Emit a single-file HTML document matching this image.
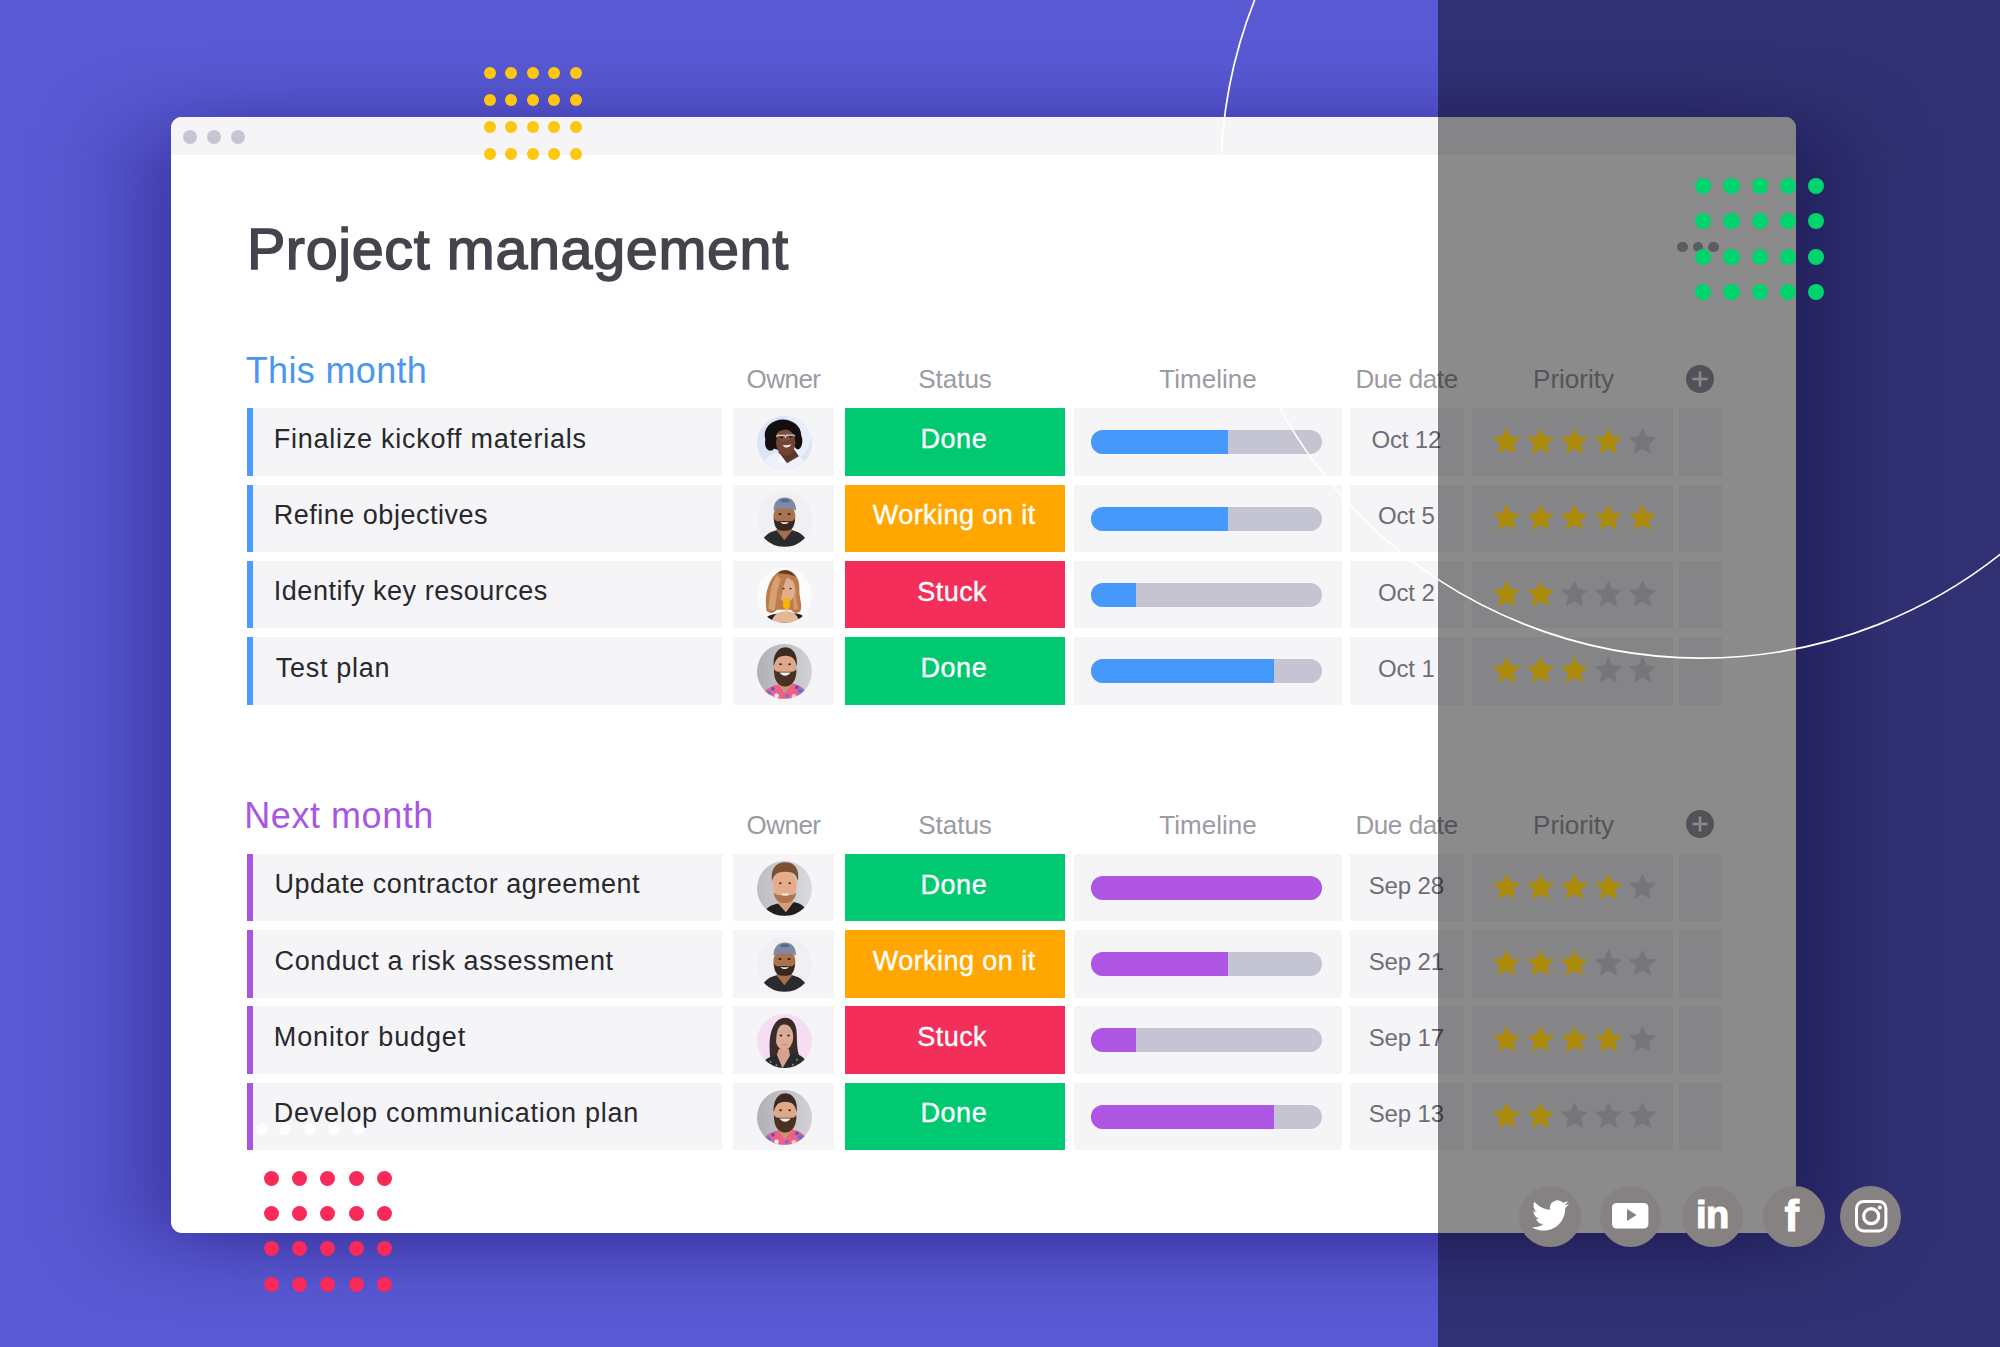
<!DOCTYPE html>
<html lang="en"><head><meta charset="utf-8"><title>Project management</title>
<style>
html,body{margin:0;padding:0;}
body{width:2000px;height:1347px;overflow:hidden;position:relative;background:#5859D3;font-family:"Liberation Sans", sans-serif;}
.t{position:absolute;white-space:nowrap;}
.r{position:absolute;}
svg{position:absolute;overflow:visible;}
.av{width:54.8px;height:54.8px;border-radius:50%;overflow:hidden;}.av svg{filter:blur(0.45px);}
</style></head><body>
<div class="r" style="left:86px;top:127px;width:1794.5px;height:1115.5px;border-radius:14px;background:linear-gradient(90deg,rgba(35,25,120,0) 0,rgba(35,25,120,0.72) 145px,rgba(35,25,120,0.72) calc(100% - 145px),rgba(35,25,120,0) 100%);filter:blur(35px)"></div>
<div class="r" style="left:171px;top:117px;width:1624.5px;height:1115.5px;background:#fff;border-radius:11px;overflow:hidden"><div class="r" style="left:0;top:0;width:100%;height:38px;background:#F5F5F7"></div></div>
<div class="r" style="left:183.00px;top:129.50px;width:14px;height:14px;border-radius:50%;background:#C6C5D3;"></div>
<div class="r" style="left:207.00px;top:129.50px;width:14px;height:14px;border-radius:50%;background:#C6C5D3;"></div>
<div class="r" style="left:231.00px;top:129.50px;width:14px;height:14px;border-radius:50%;background:#C6C5D3;"></div>
<div class="t" style="left:246.90px;top:192.18px;font-size:57.5px;line-height:115.0px;color:#43444C;letter-spacing:0.63px;-webkit-text-stroke:1.5px #43444C;">Project management</div>
<div class="r" style="left:1677.00px;top:241.90px;width:10.6px;height:10.6px;border-radius:50%;background:#A9A8B4;"></div>
<div class="r" style="left:1692.90px;top:241.90px;width:10.6px;height:10.6px;border-radius:50%;background:#A9A8B4;"></div>
<div class="r" style="left:1708.20px;top:241.90px;width:10.6px;height:10.6px;border-radius:50%;background:#A9A8B4;"></div>
<div class="t" style="left:245.80px;top:334.53px;font-size:36px;line-height:72px;color:#4A96F0;letter-spacing:0.33px;">This month</div>
<div class="t" style="left:383.50px;width:800px;text-align:center;top:353.49px;font-size:26px;line-height:52px;color:#9B9BA3;letter-spacing:-0.5px;">Owner</div>
<div class="t" style="left:555.00px;width:800px;text-align:center;top:353.49px;font-size:26px;line-height:52px;color:#9B9BA3;letter-spacing:0px;">Status</div>
<div class="t" style="left:808.00px;width:800px;text-align:center;top:353.49px;font-size:26px;line-height:52px;color:#9B9BA3;letter-spacing:0px;">Timeline</div>
<div class="t" style="left:1006.60px;width:800px;text-align:center;top:353.49px;font-size:26px;line-height:52px;color:#9B9BA3;letter-spacing:-0.4px;">Due date</div>
<div class="t" style="left:1173.50px;width:800px;text-align:center;top:353.49px;font-size:26px;line-height:52px;color:#9B9BA3;letter-spacing:0px;">Priority</div>
<svg style="left:1686.25px;top:364.8px" width="28" height="28" viewBox="0 0 28 28"><circle cx="14" cy="14" r="14" fill="#9796A3"/><path d="M14 6.5v15M6.5 14h15" stroke="#fff" stroke-width="2.6"/></svg>
<div class="r" style="left:247.00px;top:408.30px;width:6.30px;height:67.50px;background:#4B9BFA;"></div>
<div class="r" style="left:253.30px;top:408.30px;width:468.70px;height:67.50px;background:#F5F5F8;"></div>
<div class="t" style="left:273.80px;top:411.94px;font-size:27px;line-height:54px;color:#28282D;letter-spacing:0.74px;">Finalize kickoff materials</div>
<div class="r" style="left:732.50px;top:408.30px;width:101.25px;height:67.50px;background:#F5F5F8;"></div>
<div class="r av" style="left:757.30px;top:415.50px;background:#DCE5F7"><svg style="left:0;top:0" width="54.8" height="54.8" viewBox="0 0 55 55"><ellipse cx="38" cy="20" rx="16" ry="22" fill="#E9EEFB"/>
<ellipse cx="26" cy="19" rx="18.3" ry="15.5" fill="#130F0F"/>
<ellipse cx="13.5" cy="27" rx="5.5" ry="8" fill="#130F0F"/>
<ellipse cx="41" cy="25" rx="4.5" ry="8.5" fill="#130F0F"/>
<path d="M4 55 C5 44 13 38 23 36 L41 40 C47 43 50 48 52 55Z" fill="#EDF1FC"/>
<path d="M21 36 L30 47.5 L42 40.5 L37 33Z" fill="#5C3729"/>
<ellipse cx="28.8" cy="26.6" rx="9.8" ry="13" fill="#714433"/>
<ellipse cx="27.5" cy="19.5" rx="8" ry="5.5" fill="#7E4E3B"/>
<ellipse cx="24.5" cy="21.6" rx="1.4" ry="1" fill="#2A1A16"/><ellipse cx="33.6" cy="20.8" rx="1.4" ry="1" fill="#2A1A16"/>
<path d="M19.4 21 L20.5 19.4 H27.6 L28.6 21.4 L29.6 19.2 H36.8 L38.4 20.4" stroke="#CFD4DE" stroke-width="1.1" fill="none"/>
<path d="M25.6 29 C27.6 32.6 32.6 32.4 34.4 28.4 C31.4 29.6 28.4 29.8 25.6 29Z" fill="#F3ECE8"/>
<path d="M23 38 L30 47.5 L21 46Z" fill="#F8FAFE"/></svg></div>
<div class="r" style="left:844.50px;top:408.30px;width:220.60px;height:67.50px;background:#00C971;"></div>
<div class="t" style="left:553.90px;width:800px;text-align:center;top:412.14px;font-size:27px;line-height:54px;color:#fff;letter-spacing:0.5px;-webkit-text-stroke:0.35px #fff;">Done</div>
<div class="r" style="left:1073.75px;top:408.30px;width:268.25px;height:67.50px;background:#F5F5F8;"></div>
<div class="r" style="left:1091.25px;top:430.30px;width:230.25px;height:24px;border-radius:12px;background:#C5C4D3;overflow:hidden"><div class="r" style="left:0;top:0;height:24px;width:137px;background:#4599FB"></div></div>
<div class="r" style="left:1350.00px;top:408.30px;width:113.75px;height:67.50px;background:#F5F5F8;"></div>
<div class="t" style="left:1006.30px;width:800px;text-align:center;top:416.18px;font-size:24px;line-height:48px;color:#6E6E76;letter-spacing:-0.15px;">Oct 12</div>
<div class="r" style="left:1472.00px;top:408.30px;width:200.50px;height:67.50px;background:#F5F5F8;"></div>
<div class="r" style="left:1678.75px;top:408.30px;width:43.25px;height:67.50px;background:#F5F5F8;"></div>
<div class="r" style="left:247.00px;top:484.55px;width:6.30px;height:67.50px;background:#4B9BFA;"></div>
<div class="r" style="left:253.30px;top:484.55px;width:468.70px;height:67.50px;background:#F5F5F8;"></div>
<div class="t" style="left:273.80px;top:488.19px;font-size:27px;line-height:54px;color:#28282D;letter-spacing:0.5px;">Refine objectives</div>
<div class="r" style="left:732.50px;top:484.55px;width:101.25px;height:67.50px;background:#F5F5F8;"></div>
<div class="r av" style="left:757.30px;top:491.75px;background:#F0F0F3"><svg style="left:0;top:0" width="54.8" height="54.8" viewBox="0 0 55 55"><path d="M3 55 C5 45.5 11 40.5 19.5 38.5 L35.5 38.5 C44 40.5 50 45.5 52 55Z" fill="#2B2B2E"/>
<path d="M19.5 38.5 L27.5 48.5 L35.5 38.5 L33.5 32 H21.5Z" fill="#A26E4E"/>
<ellipse cx="27.5" cy="24.5" rx="11" ry="13" fill="#A9734F"/>
<path d="M16.8 26 C17 37.5 22 39 27.5 39 C33 39 38 37.5 38.2 26 C36.4 30.5 33.5 29.2 27.5 29.2 C21.5 29.2 18.6 30.5 16.8 26Z" fill="#37271F"/>
<path d="M23.4 29.8 C25 33 30.4 33 32 29.8 C29.4 30.6 26 30.6 23.4 29.8Z" fill="#EFE6E0"/>
<ellipse cx="23" cy="22" rx="1.5" ry="1" fill="#2A1B15"/><ellipse cx="32.2" cy="22" rx="1.5" ry="1" fill="#2A1B15"/>
<path d="M16.6 18.5 C16.6 9 22 5.5 28 5.5 C34 5.5 39.2 9 39.2 18.5 C35 16 21 16 16.6 18.5Z" fill="#7D89A5"/>
<path d="M22.5 8.5 C26 6.5 31 6.5 33.5 9 C30 11 26 11 22.5 8.5Z" fill="#5C6783"/></svg></div>
<div class="r" style="left:844.50px;top:484.55px;width:220.60px;height:67.50px;background:#FFA700;"></div>
<div class="t" style="left:554.20px;width:800px;text-align:center;top:488.39px;font-size:27px;line-height:54px;color:#fff;letter-spacing:0.45px;-webkit-text-stroke:0.35px #fff;">Working on it</div>
<div class="r" style="left:1073.75px;top:484.55px;width:268.25px;height:67.50px;background:#F5F5F8;"></div>
<div class="r" style="left:1091.25px;top:506.55px;width:230.25px;height:24px;border-radius:12px;background:#C5C4D3;overflow:hidden"><div class="r" style="left:0;top:0;height:24px;width:137px;background:#4599FB"></div></div>
<div class="r" style="left:1350.00px;top:484.55px;width:113.75px;height:67.50px;background:#F5F5F8;"></div>
<div class="t" style="left:1006.30px;width:800px;text-align:center;top:492.43px;font-size:24px;line-height:48px;color:#6E6E76;letter-spacing:-0.15px;">Oct 5</div>
<div class="r" style="left:1472.00px;top:484.55px;width:200.50px;height:67.50px;background:#F5F5F8;"></div>
<div class="r" style="left:1678.75px;top:484.55px;width:43.25px;height:67.50px;background:#F5F5F8;"></div>
<div class="r" style="left:247.00px;top:560.80px;width:6.30px;height:67.50px;background:#4B9BFA;"></div>
<div class="r" style="left:253.30px;top:560.80px;width:468.70px;height:67.50px;background:#F5F5F8;"></div>
<div class="t" style="left:273.80px;top:564.44px;font-size:27px;line-height:54px;color:#28282D;letter-spacing:0.52px;">Identify key resources</div>
<div class="r" style="left:732.50px;top:560.80px;width:101.25px;height:67.50px;background:#F5F5F8;"></div>
<div class="r av" style="left:757.30px;top:568.00px;background:#FBFBFC"><svg style="left:0;top:0" width="54.8" height="54.8" viewBox="0 0 55 55"><path d="M9.5 43 C7.5 30 10 9 24 2.8 C36 -0.8 43.5 10 42.5 22 C42.5 31 46 37 43.5 43.5 C40 46.5 36 45 34 42 L20 42 C17 46 12 46 9.5 43Z" fill="#BE7C4D"/>
<path d="M20.5 5.6 C25 0.6 34 0.8 38.5 9 C33 5.6 26.5 5.6 20.5 5.6Z" fill="#5E3C2A"/>
<path d="M11.6 41 C12.6 30 13.6 16 20 7.6 L23.6 11 C19 22 20 33 17.6 43Z" fill="#D6A070"/>
<path d="M36 12 C40 20 38.6 32 41.6 41 L37 42 C36 33 36.6 22 34 14Z" fill="#D29967"/>
<path d="M5 55 C7 49.5 13 47 19.5 46 L39.5 45.6 C45.5 46.6 49.4 49.5 50.5 55Z" fill="#1E1E20"/>
<path d="M14.5 55 C15.6 47.5 21 43.4 29 43.4 C37 43.4 41.4 47.5 42.5 55Z" fill="#E3B697"/>
<ellipse cx="29.6" cy="22" rx="8.4" ry="12.2" fill="#E0AF90"/>
<path d="M21 25 C21.6 14.6 25 10 31.6 7.6 C27.6 13.6 25.6 20 24.6 31Z" fill="#BE7C4D"/>
<ellipse cx="26.6" cy="20.6" rx="1.3" ry="0.9" fill="#5A3A2C"/><ellipse cx="33.6" cy="20.6" rx="1.3" ry="0.9" fill="#5A3A2C"/>
<rect x="26.2" y="30.4" width="6.8" height="10.8" rx="3.2" fill="#F8B400"/>
<rect x="28.8" y="40.4" width="1.8" height="7.2" fill="#E6C08A"/></svg></div>
<div class="r" style="left:844.50px;top:560.80px;width:220.60px;height:67.50px;background:#F42E5A;"></div>
<div class="t" style="left:552.20px;width:800px;text-align:center;top:564.64px;font-size:27px;line-height:54px;color:#fff;letter-spacing:0.45px;-webkit-text-stroke:0.35px #fff;">Stuck</div>
<div class="r" style="left:1073.75px;top:560.80px;width:268.25px;height:67.50px;background:#F5F5F8;"></div>
<div class="r" style="left:1091.25px;top:582.80px;width:230.25px;height:24px;border-radius:12px;background:#C5C4D3;overflow:hidden"><div class="r" style="left:0;top:0;height:24px;width:45px;background:#4599FB"></div></div>
<div class="r" style="left:1350.00px;top:560.80px;width:113.75px;height:67.50px;background:#F5F5F8;"></div>
<div class="t" style="left:1006.30px;width:800px;text-align:center;top:568.68px;font-size:24px;line-height:48px;color:#6E6E76;letter-spacing:-0.15px;">Oct 2</div>
<div class="r" style="left:1472.00px;top:560.80px;width:200.50px;height:67.50px;background:#F5F5F8;"></div>
<div class="r" style="left:1678.75px;top:560.80px;width:43.25px;height:67.50px;background:#F5F5F8;"></div>
<div class="r" style="left:247.00px;top:637.05px;width:6.30px;height:67.50px;background:#4B9BFA;"></div>
<div class="r" style="left:253.30px;top:637.05px;width:468.70px;height:67.50px;background:#F5F5F8;"></div>
<div class="t" style="left:275.80px;top:640.69px;font-size:27px;line-height:54px;color:#28282D;letter-spacing:0.7px;">Test plan</div>
<div class="r" style="left:732.50px;top:637.05px;width:101.25px;height:67.50px;background:#F5F5F8;"></div>
<div class="r av" style="left:757.30px;top:644.25px;background:linear-gradient(90deg,#B0B0B6,#D2D2D6)"><svg style="left:0;top:0" width="54.8" height="54.8" viewBox="0 0 55 55"><path d="M3.5 55 C5.5 47 12 43 20 41 L37 40 C45 42 50.5 47 52.5 55Z" fill="#EF6088"/>
<circle cx="11.5" cy="49.5" r="2.7" fill="#5479DA"/><circle cx="19.6" cy="52" r="2.3" fill="#F7F2F4"/><circle cx="43.6" cy="47.4" r="2.7" fill="#5479DA"/><circle cx="37" cy="52.4" r="2.3" fill="#F9C9D6"/><circle cx="47.6" cy="52.4" r="2" fill="#F7F2F4"/><circle cx="16" cy="45" r="1.9" fill="#6C4FB0"/><circle cx="40" cy="43.4" r="1.9" fill="#6C4FB0"/><circle cx="30" cy="52" r="1.8" fill="#5479DA"/>
<path d="M21 40.4 L28 49.5 L36 40 L34 35 H23Z" fill="#CB9273"/>
<ellipse cx="28.2" cy="21.5" rx="11" ry="14" fill="#DEA889"/>
<path d="M16.8 22.5 C15.8 12 20 3.5 28.5 3.3 C37 3.5 41.2 12 39.8 22.5 C38.5 15.4 36 11.8 28.5 11.8 C21 11.8 18.5 15.4 16.8 22.5Z" fill="#3B2A21"/>
<path d="M17 24.5 C16.6 36 21 42.6 28.2 42.6 C35.5 42.6 40 36 39.5 24.5 C38 28.6 35 27.8 28.2 27.8 C21.5 27.8 18.5 28.6 17 24.5Z" fill="#493221"/>
<ellipse cx="23.6" cy="20.4" rx="1.4" ry="1" fill="#3A2A22"/><ellipse cx="32.8" cy="20.4" rx="1.4" ry="1" fill="#3A2A22"/>
<path d="M22.6 28.6 C24.8 32.8 31.6 32.8 33.8 28.6Z" fill="#F5F0ED"/></svg></div>
<div class="r" style="left:844.50px;top:637.05px;width:220.60px;height:67.50px;background:#00C971;"></div>
<div class="t" style="left:553.90px;width:800px;text-align:center;top:640.89px;font-size:27px;line-height:54px;color:#fff;letter-spacing:0.5px;-webkit-text-stroke:0.35px #fff;">Done</div>
<div class="r" style="left:1073.75px;top:637.05px;width:268.25px;height:67.50px;background:#F5F5F8;"></div>
<div class="r" style="left:1091.25px;top:659.05px;width:230.25px;height:24px;border-radius:12px;background:#C5C4D3;overflow:hidden"><div class="r" style="left:0;top:0;height:24px;width:183px;background:#4599FB"></div></div>
<div class="r" style="left:1350.00px;top:637.05px;width:113.75px;height:67.50px;background:#F5F5F8;"></div>
<div class="t" style="left:1006.30px;width:800px;text-align:center;top:644.93px;font-size:24px;line-height:48px;color:#6E6E76;letter-spacing:-0.15px;">Oct 1</div>
<div class="r" style="left:1472.00px;top:637.05px;width:200.50px;height:67.50px;background:#F5F5F8;"></div>
<div class="r" style="left:1678.75px;top:637.05px;width:43.25px;height:67.50px;background:#F5F5F8;"></div>
<div class="t" style="left:244.30px;top:780.28px;font-size:36px;line-height:72px;color:#A856E6;letter-spacing:0.55px;">Next month</div>
<div class="t" style="left:383.50px;width:800px;text-align:center;top:798.99px;font-size:26px;line-height:52px;color:#9B9BA3;letter-spacing:-0.5px;">Owner</div>
<div class="t" style="left:555.00px;width:800px;text-align:center;top:798.99px;font-size:26px;line-height:52px;color:#9B9BA3;letter-spacing:0px;">Status</div>
<div class="t" style="left:808.00px;width:800px;text-align:center;top:798.99px;font-size:26px;line-height:52px;color:#9B9BA3;letter-spacing:0px;">Timeline</div>
<div class="t" style="left:1006.60px;width:800px;text-align:center;top:798.99px;font-size:26px;line-height:52px;color:#9B9BA3;letter-spacing:-0.4px;">Due date</div>
<div class="t" style="left:1173.50px;width:800px;text-align:center;top:798.99px;font-size:26px;line-height:52px;color:#9B9BA3;letter-spacing:0px;">Priority</div>
<svg style="left:1686.25px;top:810.3px" width="28" height="28" viewBox="0 0 28 28"><circle cx="14" cy="14" r="14" fill="#9796A3"/><path d="M14 6.5v15M6.5 14h15" stroke="#fff" stroke-width="2.6"/></svg>
<div class="r" style="left:247.00px;top:853.80px;width:6.30px;height:67.50px;background:#A955E3;"></div>
<div class="r" style="left:253.30px;top:853.80px;width:468.70px;height:67.50px;background:#F5F5F8;"></div>
<div class="t" style="left:274.55px;top:857.44px;font-size:27px;line-height:54px;color:#28282D;letter-spacing:0.53px;">Update contractor agreement</div>
<div class="r" style="left:732.50px;top:853.80px;width:101.25px;height:67.50px;background:#F5F5F8;"></div>
<div class="r av" style="left:757.30px;top:861.00px;background:linear-gradient(90deg,#BDBDC2,#DADADD)"><svg style="left:0;top:0" width="54.8" height="54.8" viewBox="0 0 55 55"><path d="M5.5 55 C7.5 48 13 44.5 20 43 L38 41.5 C45 43 49.5 47 51.5 55Z" fill="#1F1F22"/>
<path d="M21 42.6 L29 51.5 L36.5 41.6 L35 36 H23Z" fill="#D89E7B"/>
<ellipse cx="28" cy="24" rx="11.8" ry="15.5" fill="#E4AC88"/>
<path d="M16.6 31.5 C18 40 23 42.2 28 42.2 C33 42.2 38 40 39.4 31.5 C36 35.2 32 34 28 34 C24 34 20 35.2 16.6 31.5Z" fill="#AB7550"/>
<path d="M15.2 20.5 C13 8 19 1.2 28.5 1.2 C38 1.2 43.2 8 41 20.5 C39.5 13.8 37 10.8 28.5 10.8 C20 10.8 17 13.8 15.2 20.5Z" fill="#7C5032"/>
<ellipse cx="23.4" cy="22.4" rx="1.5" ry="1" fill="#5A3D2C"/><ellipse cx="32.8" cy="22.4" rx="1.5" ry="1" fill="#5A3D2C"/>
<ellipse cx="28.2" cy="33.6" rx="4" ry="1.2" fill="#F1E6E0"/></svg></div>
<div class="r" style="left:844.50px;top:853.80px;width:220.60px;height:67.50px;background:#00C971;"></div>
<div class="t" style="left:553.90px;width:800px;text-align:center;top:857.64px;font-size:27px;line-height:54px;color:#fff;letter-spacing:0.5px;-webkit-text-stroke:0.35px #fff;">Done</div>
<div class="r" style="left:1073.75px;top:853.80px;width:268.25px;height:67.50px;background:#F5F5F8;"></div>
<div class="r" style="left:1091.25px;top:875.80px;width:230.25px;height:24px;border-radius:12px;background:#C5C4D3;overflow:hidden"><div class="r" style="left:0;top:0;height:24px;width:230.25px;background:#AE55E4"></div></div>
<div class="r" style="left:1350.00px;top:853.80px;width:113.75px;height:67.50px;background:#F5F5F8;"></div>
<div class="t" style="left:1006.30px;width:800px;text-align:center;top:861.68px;font-size:24px;line-height:48px;color:#6E6E76;letter-spacing:-0.15px;">Sep 28</div>
<div class="r" style="left:1472.00px;top:853.80px;width:200.50px;height:67.50px;background:#F5F5F8;"></div>
<div class="r" style="left:1678.75px;top:853.80px;width:43.25px;height:67.50px;background:#F5F5F8;"></div>
<div class="r" style="left:247.00px;top:930.05px;width:6.30px;height:67.50px;background:#A955E3;"></div>
<div class="r" style="left:253.30px;top:930.05px;width:468.70px;height:67.50px;background:#F5F5F8;"></div>
<div class="t" style="left:274.55px;top:933.69px;font-size:27px;line-height:54px;color:#28282D;letter-spacing:0.6px;">Conduct a risk assessment</div>
<div class="r" style="left:732.50px;top:930.05px;width:101.25px;height:67.50px;background:#F5F5F8;"></div>
<div class="r av" style="left:757.30px;top:937.25px;background:#F0F0F3"><svg style="left:0;top:0" width="54.8" height="54.8" viewBox="0 0 55 55"><path d="M3 55 C5 45.5 11 40.5 19.5 38.5 L35.5 38.5 C44 40.5 50 45.5 52 55Z" fill="#2B2B2E"/>
<path d="M19.5 38.5 L27.5 48.5 L35.5 38.5 L33.5 32 H21.5Z" fill="#A26E4E"/>
<ellipse cx="27.5" cy="24.5" rx="11" ry="13" fill="#A9734F"/>
<path d="M16.8 26 C17 37.5 22 39 27.5 39 C33 39 38 37.5 38.2 26 C36.4 30.5 33.5 29.2 27.5 29.2 C21.5 29.2 18.6 30.5 16.8 26Z" fill="#37271F"/>
<path d="M23.4 29.8 C25 33 30.4 33 32 29.8 C29.4 30.6 26 30.6 23.4 29.8Z" fill="#EFE6E0"/>
<ellipse cx="23" cy="22" rx="1.5" ry="1" fill="#2A1B15"/><ellipse cx="32.2" cy="22" rx="1.5" ry="1" fill="#2A1B15"/>
<path d="M16.6 18.5 C16.6 9 22 5.5 28 5.5 C34 5.5 39.2 9 39.2 18.5 C35 16 21 16 16.6 18.5Z" fill="#7D89A5"/>
<path d="M22.5 8.5 C26 6.5 31 6.5 33.5 9 C30 11 26 11 22.5 8.5Z" fill="#5C6783"/></svg></div>
<div class="r" style="left:844.50px;top:930.05px;width:220.60px;height:67.50px;background:#FFA700;"></div>
<div class="t" style="left:554.20px;width:800px;text-align:center;top:933.89px;font-size:27px;line-height:54px;color:#fff;letter-spacing:0.45px;-webkit-text-stroke:0.35px #fff;">Working on it</div>
<div class="r" style="left:1073.75px;top:930.05px;width:268.25px;height:67.50px;background:#F5F5F8;"></div>
<div class="r" style="left:1091.25px;top:952.05px;width:230.25px;height:24px;border-radius:12px;background:#C5C4D3;overflow:hidden"><div class="r" style="left:0;top:0;height:24px;width:137px;background:#AE55E4"></div></div>
<div class="r" style="left:1350.00px;top:930.05px;width:113.75px;height:67.50px;background:#F5F5F8;"></div>
<div class="t" style="left:1006.30px;width:800px;text-align:center;top:937.93px;font-size:24px;line-height:48px;color:#6E6E76;letter-spacing:-0.15px;">Sep 21</div>
<div class="r" style="left:1472.00px;top:930.05px;width:200.50px;height:67.50px;background:#F5F5F8;"></div>
<div class="r" style="left:1678.75px;top:930.05px;width:43.25px;height:67.50px;background:#F5F5F8;"></div>
<div class="r" style="left:247.00px;top:1006.30px;width:6.30px;height:67.50px;background:#A955E3;"></div>
<div class="r" style="left:253.30px;top:1006.30px;width:468.70px;height:67.50px;background:#F5F5F8;"></div>
<div class="t" style="left:273.80px;top:1009.94px;font-size:27px;line-height:54px;color:#28282D;letter-spacing:0.87px;">Monitor budget</div>
<div class="r" style="left:732.50px;top:1006.30px;width:101.25px;height:67.50px;background:#F5F5F8;"></div>
<div class="r av" style="left:757.30px;top:1013.50px;background:#F7DDF4"><svg style="left:0;top:0" width="54.8" height="54.8" viewBox="0 0 55 55"><path d="M13.5 46 C11.5 30 12 10 24 4.5 C33 1.5 39.4 8 39.8 18 C40.2 28 40 36 42.5 42 C34 47 22 48 13.5 46Z" fill="#392C2A"/>
<path d="M3.5 55 C5.5 47 11 43 19 41 L39 40 C46 42 50.5 47 52.5 55Z" fill="#292A2C"/>
<path d="M20 41 L25.6 54.5 L33 42 L32 35 H22Z" fill="#D5A38D"/>
<ellipse cx="27.2" cy="23" rx="9.2" ry="13" fill="#DBAB96"/>
<path d="M15.6 27 C14.6 12 20 5 28 5 C34 5 38.2 9 38.8 17.5 C35 12 31 10 26 10.6 C21 12.2 19.2 18 19.2 31Z" fill="#392C2A"/>
<ellipse cx="24" cy="21.6" rx="1.4" ry="0.9" fill="#3A2A26"/><ellipse cx="31.6" cy="21.6" rx="1.4" ry="0.9" fill="#3A2A26"/>
<path d="M24.6 30.6 C26.4 32 29.4 32 31 30.6Z" fill="#B8796A"/>
<circle cx="13.6" cy="48" r="1" fill="#8B8D90"/><circle cx="40" cy="46" r="1" fill="#8B8D90"/><circle cx="44.4" cy="51" r="1" fill="#8B8D90"/><circle cx="19.6" cy="51.4" r="1" fill="#8B8D90"/><circle cx="36" cy="51" r="1" fill="#8B8D90"/></svg></div>
<div class="r" style="left:844.50px;top:1006.30px;width:220.60px;height:67.50px;background:#F42E5A;"></div>
<div class="t" style="left:552.20px;width:800px;text-align:center;top:1010.14px;font-size:27px;line-height:54px;color:#fff;letter-spacing:0.45px;-webkit-text-stroke:0.35px #fff;">Stuck</div>
<div class="r" style="left:1073.75px;top:1006.30px;width:268.25px;height:67.50px;background:#F5F5F8;"></div>
<div class="r" style="left:1091.25px;top:1028.30px;width:230.25px;height:24px;border-radius:12px;background:#C5C4D3;overflow:hidden"><div class="r" style="left:0;top:0;height:24px;width:45px;background:#AE55E4"></div></div>
<div class="r" style="left:1350.00px;top:1006.30px;width:113.75px;height:67.50px;background:#F5F5F8;"></div>
<div class="t" style="left:1006.30px;width:800px;text-align:center;top:1014.18px;font-size:24px;line-height:48px;color:#6E6E76;letter-spacing:-0.15px;">Sep 17</div>
<div class="r" style="left:1472.00px;top:1006.30px;width:200.50px;height:67.50px;background:#F5F5F8;"></div>
<div class="r" style="left:1678.75px;top:1006.30px;width:43.25px;height:67.50px;background:#F5F5F8;"></div>
<div class="r" style="left:247.00px;top:1082.55px;width:6.30px;height:67.50px;background:#A955E3;"></div>
<div class="r" style="left:253.30px;top:1082.55px;width:468.70px;height:67.50px;background:#F5F5F8;"></div>
<div class="t" style="left:273.80px;top:1086.19px;font-size:27px;line-height:54px;color:#28282D;letter-spacing:0.71px;">Develop communication plan</div>
<div class="r" style="left:732.50px;top:1082.55px;width:101.25px;height:67.50px;background:#F5F5F8;"></div>
<div class="r av" style="left:757.30px;top:1089.75px;background:linear-gradient(90deg,#B0B0B6,#D2D2D6)"><svg style="left:0;top:0" width="54.8" height="54.8" viewBox="0 0 55 55"><path d="M3.5 55 C5.5 47 12 43 20 41 L37 40 C45 42 50.5 47 52.5 55Z" fill="#EF6088"/>
<circle cx="11.5" cy="49.5" r="2.7" fill="#5479DA"/><circle cx="19.6" cy="52" r="2.3" fill="#F7F2F4"/><circle cx="43.6" cy="47.4" r="2.7" fill="#5479DA"/><circle cx="37" cy="52.4" r="2.3" fill="#F9C9D6"/><circle cx="47.6" cy="52.4" r="2" fill="#F7F2F4"/><circle cx="16" cy="45" r="1.9" fill="#6C4FB0"/><circle cx="40" cy="43.4" r="1.9" fill="#6C4FB0"/><circle cx="30" cy="52" r="1.8" fill="#5479DA"/>
<path d="M21 40.4 L28 49.5 L36 40 L34 35 H23Z" fill="#CB9273"/>
<ellipse cx="28.2" cy="21.5" rx="11" ry="14" fill="#DEA889"/>
<path d="M16.8 22.5 C15.8 12 20 3.5 28.5 3.3 C37 3.5 41.2 12 39.8 22.5 C38.5 15.4 36 11.8 28.5 11.8 C21 11.8 18.5 15.4 16.8 22.5Z" fill="#3B2A21"/>
<path d="M17 24.5 C16.6 36 21 42.6 28.2 42.6 C35.5 42.6 40 36 39.5 24.5 C38 28.6 35 27.8 28.2 27.8 C21.5 27.8 18.5 28.6 17 24.5Z" fill="#493221"/>
<ellipse cx="23.6" cy="20.4" rx="1.4" ry="1" fill="#3A2A22"/><ellipse cx="32.8" cy="20.4" rx="1.4" ry="1" fill="#3A2A22"/>
<path d="M22.6 28.6 C24.8 32.8 31.6 32.8 33.8 28.6Z" fill="#F5F0ED"/></svg></div>
<div class="r" style="left:844.50px;top:1082.55px;width:220.60px;height:67.50px;background:#00C971;"></div>
<div class="t" style="left:553.90px;width:800px;text-align:center;top:1086.39px;font-size:27px;line-height:54px;color:#fff;letter-spacing:0.5px;-webkit-text-stroke:0.35px #fff;">Done</div>
<div class="r" style="left:1073.75px;top:1082.55px;width:268.25px;height:67.50px;background:#F5F5F8;"></div>
<div class="r" style="left:1091.25px;top:1104.55px;width:230.25px;height:24px;border-radius:12px;background:#C5C4D3;overflow:hidden"><div class="r" style="left:0;top:0;height:24px;width:183px;background:#AE55E4"></div></div>
<div class="r" style="left:1350.00px;top:1082.55px;width:113.75px;height:67.50px;background:#F5F5F8;"></div>
<div class="t" style="left:1006.30px;width:800px;text-align:center;top:1090.43px;font-size:24px;line-height:48px;color:#6E6E76;letter-spacing:-0.15px;">Sep 13</div>
<div class="r" style="left:1472.00px;top:1082.55px;width:200.50px;height:67.50px;background:#F5F5F8;"></div>
<div class="r" style="left:1678.75px;top:1082.55px;width:43.25px;height:67.50px;background:#F5F5F8;"></div>
<div class="r" style="left:255.50px;top:1123.30px;width:12px;height:12px;border-radius:50%;background:rgba(255,255,255,0.8);filter:blur(0.6px);"></div>
<div class="r" style="left:279.40px;top:1123.30px;width:12px;height:12px;border-radius:50%;background:rgba(255,255,255,0.8);filter:blur(0.6px);"></div>
<div class="r" style="left:303.90px;top:1123.30px;width:12px;height:12px;border-radius:50%;background:rgba(255,255,255,0.8);filter:blur(0.6px);"></div>
<div class="r" style="left:328.40px;top:1123.30px;width:12px;height:12px;border-radius:50%;background:rgba(255,255,255,0.8);filter:blur(0.6px);"></div>
<div class="r" style="left:352.80px;top:1123.30px;width:12px;height:12px;border-radius:50%;background:rgba(255,255,255,0.8);filter:blur(0.6px);"></div>
<div class="r" style="left:483.50px;top:67.25px;width:12px;height:12px;border-radius:50%;background:#FFC60F;"></div>
<div class="r" style="left:505.00px;top:67.25px;width:12px;height:12px;border-radius:50%;background:#FFC60F;"></div>
<div class="r" style="left:526.50px;top:67.25px;width:12px;height:12px;border-radius:50%;background:#FFC60F;"></div>
<div class="r" style="left:548.25px;top:67.25px;width:12px;height:12px;border-radius:50%;background:#FFC60F;"></div>
<div class="r" style="left:569.75px;top:67.25px;width:12px;height:12px;border-radius:50%;background:#FFC60F;"></div>
<div class="r" style="left:483.50px;top:94.00px;width:12px;height:12px;border-radius:50%;background:#FFC60F;"></div>
<div class="r" style="left:505.00px;top:94.00px;width:12px;height:12px;border-radius:50%;background:#FFC60F;"></div>
<div class="r" style="left:526.50px;top:94.00px;width:12px;height:12px;border-radius:50%;background:#FFC60F;"></div>
<div class="r" style="left:548.25px;top:94.00px;width:12px;height:12px;border-radius:50%;background:#FFC60F;"></div>
<div class="r" style="left:569.75px;top:94.00px;width:12px;height:12px;border-radius:50%;background:#FFC60F;"></div>
<div class="r" style="left:483.50px;top:121.00px;width:12px;height:12px;border-radius:50%;background:#FFC60F;"></div>
<div class="r" style="left:505.00px;top:121.00px;width:12px;height:12px;border-radius:50%;background:#FFC60F;"></div>
<div class="r" style="left:526.50px;top:121.00px;width:12px;height:12px;border-radius:50%;background:#FFC60F;"></div>
<div class="r" style="left:548.25px;top:121.00px;width:12px;height:12px;border-radius:50%;background:#FFC60F;"></div>
<div class="r" style="left:569.75px;top:121.00px;width:12px;height:12px;border-radius:50%;background:#FFC60F;"></div>
<div class="r" style="left:483.50px;top:148.00px;width:12px;height:12px;border-radius:50%;background:#FFC60F;"></div>
<div class="r" style="left:505.00px;top:148.00px;width:12px;height:12px;border-radius:50%;background:#FFC60F;"></div>
<div class="r" style="left:526.50px;top:148.00px;width:12px;height:12px;border-radius:50%;background:#FFC60F;"></div>
<div class="r" style="left:548.25px;top:148.00px;width:12px;height:12px;border-radius:50%;background:#FFC60F;"></div>
<div class="r" style="left:569.75px;top:148.00px;width:12px;height:12px;border-radius:50%;background:#FFC60F;"></div>
<div class="r" style="left:264.00px;top:1170.50px;width:15px;height:15px;border-radius:50%;background:#F72A5A;"></div>
<div class="r" style="left:292.10px;top:1170.50px;width:15px;height:15px;border-radius:50%;background:#F72A5A;"></div>
<div class="r" style="left:320.40px;top:1170.50px;width:15px;height:15px;border-radius:50%;background:#F72A5A;"></div>
<div class="r" style="left:348.80px;top:1170.50px;width:15px;height:15px;border-radius:50%;background:#F72A5A;"></div>
<div class="r" style="left:377.10px;top:1170.50px;width:15px;height:15px;border-radius:50%;background:#F72A5A;"></div>
<div class="r" style="left:264.00px;top:1205.80px;width:15px;height:15px;border-radius:50%;background:#F72A5A;"></div>
<div class="r" style="left:292.10px;top:1205.80px;width:15px;height:15px;border-radius:50%;background:#F72A5A;"></div>
<div class="r" style="left:320.40px;top:1205.80px;width:15px;height:15px;border-radius:50%;background:#F72A5A;"></div>
<div class="r" style="left:348.80px;top:1205.80px;width:15px;height:15px;border-radius:50%;background:#F72A5A;"></div>
<div class="r" style="left:377.10px;top:1205.80px;width:15px;height:15px;border-radius:50%;background:#F72A5A;"></div>
<div class="r" style="left:264.00px;top:1241.30px;width:15px;height:15px;border-radius:50%;background:#F72A5A;"></div>
<div class="r" style="left:292.10px;top:1241.30px;width:15px;height:15px;border-radius:50%;background:#F72A5A;"></div>
<div class="r" style="left:320.40px;top:1241.30px;width:15px;height:15px;border-radius:50%;background:#F72A5A;"></div>
<div class="r" style="left:348.80px;top:1241.30px;width:15px;height:15px;border-radius:50%;background:#F72A5A;"></div>
<div class="r" style="left:377.10px;top:1241.30px;width:15px;height:15px;border-radius:50%;background:#F72A5A;"></div>
<div class="r" style="left:264.00px;top:1276.60px;width:15px;height:15px;border-radius:50%;background:#F72A5A;"></div>
<div class="r" style="left:292.10px;top:1276.60px;width:15px;height:15px;border-radius:50%;background:#F72A5A;"></div>
<div class="r" style="left:320.40px;top:1276.60px;width:15px;height:15px;border-radius:50%;background:#F72A5A;"></div>
<div class="r" style="left:348.80px;top:1276.60px;width:15px;height:15px;border-radius:50%;background:#F72A5A;"></div>
<div class="r" style="left:377.10px;top:1276.60px;width:15px;height:15px;border-radius:50%;background:#F72A5A;"></div>
<div class="r" style="left:1438.25px;top:0.00px;width:561.75px;height:1347.00px;background:rgba(0,0,0,0.455);"></div>
<svg style="left:0;top:0" width="2000" height="1347"><polygon points="1506.50,428.50 1510.26,436.93 1519.43,437.90 1512.58,444.08 1514.49,453.10 1506.50,448.49 1498.51,453.10 1500.42,444.08 1493.57,437.90 1502.74,436.93" fill="#AC8B0B" stroke="#AC8B0B" stroke-width="0.8" stroke-linejoin="round"/><polygon points="1540.50,428.50 1544.26,436.93 1553.43,437.90 1546.58,444.08 1548.49,453.10 1540.50,448.49 1532.51,453.10 1534.42,444.08 1527.57,437.90 1536.74,436.93" fill="#AC8B0B" stroke="#AC8B0B" stroke-width="0.8" stroke-linejoin="round"/><polygon points="1574.50,428.50 1578.26,436.93 1587.43,437.90 1580.58,444.08 1582.49,453.10 1574.50,448.49 1566.51,453.10 1568.42,444.08 1561.57,437.90 1570.74,436.93" fill="#AC8B0B" stroke="#AC8B0B" stroke-width="0.8" stroke-linejoin="round"/><polygon points="1608.50,428.50 1612.26,436.93 1621.43,437.90 1614.58,444.08 1616.49,453.10 1608.50,448.49 1600.51,453.10 1602.42,444.08 1595.57,437.90 1604.74,436.93" fill="#AC8B0B" stroke="#AC8B0B" stroke-width="0.8" stroke-linejoin="round"/><polygon points="1642.50,428.50 1646.26,436.93 1655.43,437.90 1648.58,444.08 1650.49,453.10 1642.50,448.49 1634.51,453.10 1636.42,444.08 1629.57,437.90 1638.74,436.93" fill="#767578" stroke="#767578" stroke-width="0.8" stroke-linejoin="round"/><polygon points="1506.50,504.75 1510.26,513.18 1519.43,514.15 1512.58,520.33 1514.49,529.35 1506.50,524.74 1498.51,529.35 1500.42,520.33 1493.57,514.15 1502.74,513.18" fill="#AC8B0B" stroke="#AC8B0B" stroke-width="0.8" stroke-linejoin="round"/><polygon points="1540.50,504.75 1544.26,513.18 1553.43,514.15 1546.58,520.33 1548.49,529.35 1540.50,524.74 1532.51,529.35 1534.42,520.33 1527.57,514.15 1536.74,513.18" fill="#AC8B0B" stroke="#AC8B0B" stroke-width="0.8" stroke-linejoin="round"/><polygon points="1574.50,504.75 1578.26,513.18 1587.43,514.15 1580.58,520.33 1582.49,529.35 1574.50,524.74 1566.51,529.35 1568.42,520.33 1561.57,514.15 1570.74,513.18" fill="#AC8B0B" stroke="#AC8B0B" stroke-width="0.8" stroke-linejoin="round"/><polygon points="1608.50,504.75 1612.26,513.18 1621.43,514.15 1614.58,520.33 1616.49,529.35 1608.50,524.74 1600.51,529.35 1602.42,520.33 1595.57,514.15 1604.74,513.18" fill="#AC8B0B" stroke="#AC8B0B" stroke-width="0.8" stroke-linejoin="round"/><polygon points="1642.50,504.75 1646.26,513.18 1655.43,514.15 1648.58,520.33 1650.49,529.35 1642.50,524.74 1634.51,529.35 1636.42,520.33 1629.57,514.15 1638.74,513.18" fill="#AC8B0B" stroke="#AC8B0B" stroke-width="0.8" stroke-linejoin="round"/><polygon points="1506.50,581.00 1510.26,589.43 1519.43,590.40 1512.58,596.58 1514.49,605.60 1506.50,600.99 1498.51,605.60 1500.42,596.58 1493.57,590.40 1502.74,589.43" fill="#AC8B0B" stroke="#AC8B0B" stroke-width="0.8" stroke-linejoin="round"/><polygon points="1540.50,581.00 1544.26,589.43 1553.43,590.40 1546.58,596.58 1548.49,605.60 1540.50,600.99 1532.51,605.60 1534.42,596.58 1527.57,590.40 1536.74,589.43" fill="#AC8B0B" stroke="#AC8B0B" stroke-width="0.8" stroke-linejoin="round"/><polygon points="1574.50,581.00 1578.26,589.43 1587.43,590.40 1580.58,596.58 1582.49,605.60 1574.50,600.99 1566.51,605.60 1568.42,596.58 1561.57,590.40 1570.74,589.43" fill="#767578" stroke="#767578" stroke-width="0.8" stroke-linejoin="round"/><polygon points="1608.50,581.00 1612.26,589.43 1621.43,590.40 1614.58,596.58 1616.49,605.60 1608.50,600.99 1600.51,605.60 1602.42,596.58 1595.57,590.40 1604.74,589.43" fill="#767578" stroke="#767578" stroke-width="0.8" stroke-linejoin="round"/><polygon points="1642.50,581.00 1646.26,589.43 1655.43,590.40 1648.58,596.58 1650.49,605.60 1642.50,600.99 1634.51,605.60 1636.42,596.58 1629.57,590.40 1638.74,589.43" fill="#767578" stroke="#767578" stroke-width="0.8" stroke-linejoin="round"/><polygon points="1506.50,657.25 1510.26,665.68 1519.43,666.65 1512.58,672.83 1514.49,681.85 1506.50,677.24 1498.51,681.85 1500.42,672.83 1493.57,666.65 1502.74,665.68" fill="#AC8B0B" stroke="#AC8B0B" stroke-width="0.8" stroke-linejoin="round"/><polygon points="1540.50,657.25 1544.26,665.68 1553.43,666.65 1546.58,672.83 1548.49,681.85 1540.50,677.24 1532.51,681.85 1534.42,672.83 1527.57,666.65 1536.74,665.68" fill="#AC8B0B" stroke="#AC8B0B" stroke-width="0.8" stroke-linejoin="round"/><polygon points="1574.50,657.25 1578.26,665.68 1587.43,666.65 1580.58,672.83 1582.49,681.85 1574.50,677.24 1566.51,681.85 1568.42,672.83 1561.57,666.65 1570.74,665.68" fill="#AC8B0B" stroke="#AC8B0B" stroke-width="0.8" stroke-linejoin="round"/><polygon points="1608.50,657.25 1612.26,665.68 1621.43,666.65 1614.58,672.83 1616.49,681.85 1608.50,677.24 1600.51,681.85 1602.42,672.83 1595.57,666.65 1604.74,665.68" fill="#767578" stroke="#767578" stroke-width="0.8" stroke-linejoin="round"/><polygon points="1642.50,657.25 1646.26,665.68 1655.43,666.65 1648.58,672.83 1650.49,681.85 1642.50,677.24 1634.51,681.85 1636.42,672.83 1629.57,666.65 1638.74,665.68" fill="#767578" stroke="#767578" stroke-width="0.8" stroke-linejoin="round"/><polygon points="1506.50,874.00 1510.26,882.43 1519.43,883.40 1512.58,889.58 1514.49,898.60 1506.50,893.99 1498.51,898.60 1500.42,889.58 1493.57,883.40 1502.74,882.43" fill="#AC8B0B" stroke="#AC8B0B" stroke-width="0.8" stroke-linejoin="round"/><polygon points="1540.50,874.00 1544.26,882.43 1553.43,883.40 1546.58,889.58 1548.49,898.60 1540.50,893.99 1532.51,898.60 1534.42,889.58 1527.57,883.40 1536.74,882.43" fill="#AC8B0B" stroke="#AC8B0B" stroke-width="0.8" stroke-linejoin="round"/><polygon points="1574.50,874.00 1578.26,882.43 1587.43,883.40 1580.58,889.58 1582.49,898.60 1574.50,893.99 1566.51,898.60 1568.42,889.58 1561.57,883.40 1570.74,882.43" fill="#AC8B0B" stroke="#AC8B0B" stroke-width="0.8" stroke-linejoin="round"/><polygon points="1608.50,874.00 1612.26,882.43 1621.43,883.40 1614.58,889.58 1616.49,898.60 1608.50,893.99 1600.51,898.60 1602.42,889.58 1595.57,883.40 1604.74,882.43" fill="#AC8B0B" stroke="#AC8B0B" stroke-width="0.8" stroke-linejoin="round"/><polygon points="1642.50,874.00 1646.26,882.43 1655.43,883.40 1648.58,889.58 1650.49,898.60 1642.50,893.99 1634.51,898.60 1636.42,889.58 1629.57,883.40 1638.74,882.43" fill="#767578" stroke="#767578" stroke-width="0.8" stroke-linejoin="round"/><polygon points="1506.50,950.25 1510.26,958.68 1519.43,959.65 1512.58,965.83 1514.49,974.85 1506.50,970.24 1498.51,974.85 1500.42,965.83 1493.57,959.65 1502.74,958.68" fill="#AC8B0B" stroke="#AC8B0B" stroke-width="0.8" stroke-linejoin="round"/><polygon points="1540.50,950.25 1544.26,958.68 1553.43,959.65 1546.58,965.83 1548.49,974.85 1540.50,970.24 1532.51,974.85 1534.42,965.83 1527.57,959.65 1536.74,958.68" fill="#AC8B0B" stroke="#AC8B0B" stroke-width="0.8" stroke-linejoin="round"/><polygon points="1574.50,950.25 1578.26,958.68 1587.43,959.65 1580.58,965.83 1582.49,974.85 1574.50,970.24 1566.51,974.85 1568.42,965.83 1561.57,959.65 1570.74,958.68" fill="#AC8B0B" stroke="#AC8B0B" stroke-width="0.8" stroke-linejoin="round"/><polygon points="1608.50,950.25 1612.26,958.68 1621.43,959.65 1614.58,965.83 1616.49,974.85 1608.50,970.24 1600.51,974.85 1602.42,965.83 1595.57,959.65 1604.74,958.68" fill="#767578" stroke="#767578" stroke-width="0.8" stroke-linejoin="round"/><polygon points="1642.50,950.25 1646.26,958.68 1655.43,959.65 1648.58,965.83 1650.49,974.85 1642.50,970.24 1634.51,974.85 1636.42,965.83 1629.57,959.65 1638.74,958.68" fill="#767578" stroke="#767578" stroke-width="0.8" stroke-linejoin="round"/><polygon points="1506.50,1026.50 1510.26,1034.93 1519.43,1035.90 1512.58,1042.08 1514.49,1051.10 1506.50,1046.49 1498.51,1051.10 1500.42,1042.08 1493.57,1035.90 1502.74,1034.93" fill="#AC8B0B" stroke="#AC8B0B" stroke-width="0.8" stroke-linejoin="round"/><polygon points="1540.50,1026.50 1544.26,1034.93 1553.43,1035.90 1546.58,1042.08 1548.49,1051.10 1540.50,1046.49 1532.51,1051.10 1534.42,1042.08 1527.57,1035.90 1536.74,1034.93" fill="#AC8B0B" stroke="#AC8B0B" stroke-width="0.8" stroke-linejoin="round"/><polygon points="1574.50,1026.50 1578.26,1034.93 1587.43,1035.90 1580.58,1042.08 1582.49,1051.10 1574.50,1046.49 1566.51,1051.10 1568.42,1042.08 1561.57,1035.90 1570.74,1034.93" fill="#AC8B0B" stroke="#AC8B0B" stroke-width="0.8" stroke-linejoin="round"/><polygon points="1608.50,1026.50 1612.26,1034.93 1621.43,1035.90 1614.58,1042.08 1616.49,1051.10 1608.50,1046.49 1600.51,1051.10 1602.42,1042.08 1595.57,1035.90 1604.74,1034.93" fill="#AC8B0B" stroke="#AC8B0B" stroke-width="0.8" stroke-linejoin="round"/><polygon points="1642.50,1026.50 1646.26,1034.93 1655.43,1035.90 1648.58,1042.08 1650.49,1051.10 1642.50,1046.49 1634.51,1051.10 1636.42,1042.08 1629.57,1035.90 1638.74,1034.93" fill="#767578" stroke="#767578" stroke-width="0.8" stroke-linejoin="round"/><polygon points="1506.50,1102.75 1510.26,1111.18 1519.43,1112.15 1512.58,1118.33 1514.49,1127.35 1506.50,1122.74 1498.51,1127.35 1500.42,1118.33 1493.57,1112.15 1502.74,1111.18" fill="#AC8B0B" stroke="#AC8B0B" stroke-width="0.8" stroke-linejoin="round"/><polygon points="1540.50,1102.75 1544.26,1111.18 1553.43,1112.15 1546.58,1118.33 1548.49,1127.35 1540.50,1122.74 1532.51,1127.35 1534.42,1118.33 1527.57,1112.15 1536.74,1111.18" fill="#AC8B0B" stroke="#AC8B0B" stroke-width="0.8" stroke-linejoin="round"/><polygon points="1574.50,1102.75 1578.26,1111.18 1587.43,1112.15 1580.58,1118.33 1582.49,1127.35 1574.50,1122.74 1566.51,1127.35 1568.42,1118.33 1561.57,1112.15 1570.74,1111.18" fill="#767578" stroke="#767578" stroke-width="0.8" stroke-linejoin="round"/><polygon points="1608.50,1102.75 1612.26,1111.18 1621.43,1112.15 1614.58,1118.33 1616.49,1127.35 1608.50,1122.74 1600.51,1127.35 1602.42,1118.33 1595.57,1112.15 1604.74,1111.18" fill="#767578" stroke="#767578" stroke-width="0.8" stroke-linejoin="round"/><polygon points="1642.50,1102.75 1646.26,1111.18 1655.43,1112.15 1648.58,1118.33 1650.49,1127.35 1642.50,1122.74 1634.51,1127.35 1636.42,1118.33 1629.57,1112.15 1638.74,1111.18" fill="#767578" stroke="#767578" stroke-width="0.8" stroke-linejoin="round"/></svg>
<svg style="left:0;top:0" width="2000" height="1347"><circle cx="1701.7" cy="177.2" r="480.9" fill="none" stroke="#fff" stroke-width="1.7"/></svg>
<div class="r" style="left:1695.20px;top:177.80px;width:16.2px;height:16.2px;border-radius:50%;background:#00D46E;"></div>
<div class="r" style="left:1723.40px;top:177.80px;width:16.2px;height:16.2px;border-radius:50%;background:#00D46E;"></div>
<div class="r" style="left:1751.50px;top:177.80px;width:16.2px;height:16.2px;border-radius:50%;background:#00D46E;"></div>
<div class="r" style="left:1779.70px;top:177.80px;width:16.2px;height:16.2px;border-radius:50%;background:#00D46E;"></div>
<div class="r" style="left:1807.90px;top:177.80px;width:16.2px;height:16.2px;border-radius:50%;background:#00D46E;"></div>
<div class="r" style="left:1695.20px;top:213.10px;width:16.2px;height:16.2px;border-radius:50%;background:#00D46E;"></div>
<div class="r" style="left:1723.40px;top:213.10px;width:16.2px;height:16.2px;border-radius:50%;background:#00D46E;"></div>
<div class="r" style="left:1751.50px;top:213.10px;width:16.2px;height:16.2px;border-radius:50%;background:#00D46E;"></div>
<div class="r" style="left:1779.70px;top:213.10px;width:16.2px;height:16.2px;border-radius:50%;background:#00D46E;"></div>
<div class="r" style="left:1807.90px;top:213.10px;width:16.2px;height:16.2px;border-radius:50%;background:#00D46E;"></div>
<div class="r" style="left:1695.20px;top:248.50px;width:16.2px;height:16.2px;border-radius:50%;background:#00D46E;"></div>
<div class="r" style="left:1723.40px;top:248.50px;width:16.2px;height:16.2px;border-radius:50%;background:#00D46E;"></div>
<div class="r" style="left:1751.50px;top:248.50px;width:16.2px;height:16.2px;border-radius:50%;background:#00D46E;"></div>
<div class="r" style="left:1779.70px;top:248.50px;width:16.2px;height:16.2px;border-radius:50%;background:#00D46E;"></div>
<div class="r" style="left:1807.90px;top:248.50px;width:16.2px;height:16.2px;border-radius:50%;background:#00D46E;"></div>
<div class="r" style="left:1695.20px;top:283.90px;width:16.2px;height:16.2px;border-radius:50%;background:#00D46E;"></div>
<div class="r" style="left:1723.40px;top:283.90px;width:16.2px;height:16.2px;border-radius:50%;background:#00D46E;"></div>
<div class="r" style="left:1751.50px;top:283.90px;width:16.2px;height:16.2px;border-radius:50%;background:#00D46E;"></div>
<div class="r" style="left:1779.70px;top:283.90px;width:16.2px;height:16.2px;border-radius:50%;background:#00D46E;"></div>
<div class="r" style="left:1807.90px;top:283.90px;width:16.2px;height:16.2px;border-radius:50%;background:#00D46E;"></div>
<div class="r" style="left:1519.30px;top:1185.60px;width:61.4px;height:61.4px;border-radius:50%;background:#868281;"></div>
<div class="r" style="left:1599.70px;top:1185.60px;width:61.4px;height:61.4px;border-radius:50%;background:#868281;"></div>
<div class="r" style="left:1681.60px;top:1185.60px;width:61.4px;height:61.4px;border-radius:50%;background:#868281;"></div>
<div class="r" style="left:1763.20px;top:1185.60px;width:61.4px;height:61.4px;border-radius:50%;background:#868281;"></div>
<div class="r" style="left:1839.70px;top:1185.60px;width:61.4px;height:61.4px;border-radius:50%;background:#868281;"></div>
<svg style="left:1531.6px;top:1196.6px" width="37" height="37" viewBox="0 0 24 24"><path d="M23.953 4.57a10 10 0 01-2.825.775 4.958 4.958 0 002.163-2.723c-.951.555-2.005.959-3.127 1.184a4.92 4.92 0 00-8.384 4.482C7.69 8.095 4.067 6.13 1.64 3.162a4.822 4.822 0 00-.666 2.475c0 1.71.87 3.213 2.188 4.096a4.904 4.904 0 01-2.228-.616v.06a4.923 4.923 0 003.946 4.827 4.996 4.996 0 01-2.212.085 4.936 4.936 0 004.604 3.417 9.867 9.867 0 01-6.102 2.105c-.39 0-.779-.023-1.17-.067a13.995 13.995 0 007.557 2.209c9.053 0 13.998-7.496 13.998-13.985 0-.21 0-.42-.015-.63A9.935 9.935 0 0024 4.59z" fill="#fff"/></svg>
<svg style="left:1612px;top:1202.8px" width="36.4" height="25.6" viewBox="0 0 36.4 25.6"><rect width="36.4" height="25.6" rx="4.5" fill="#fff"/><path d="M15 6 L24.6 12 L15 18Z" fill="#868281"/></svg>
<div class="t" style="left:1312.40px;width:800px;text-align:center;top:1176.63px;font-size:38px;line-height:76px;color:#fff;letter-spacing:-0.6px;font-weight:bold;-webkit-text-stroke:1.2px #fff;">in</div>
<div class="t" style="left:1391.80px;width:800px;text-align:center;top:1173.03px;font-size:43.5px;line-height:87.0px;color:#fff;letter-spacing:0px;font-weight:bold;-webkit-text-stroke:1px #fff;">f</div>
<svg style="left:1855.4px;top:1200px" width="32.4" height="32.4" viewBox="0 0 32.4 32.4"><rect x="1.5" y="1.5" width="29.4" height="29.4" rx="7" fill="#7F7B7B" stroke="#fff" stroke-width="3"/><circle cx="16.2" cy="16.2" r="7.5" fill="none" stroke="#fff" stroke-width="3.2"/><circle cx="24.8" cy="7.4" r="2" fill="#fff"/></svg>
</body></html>
